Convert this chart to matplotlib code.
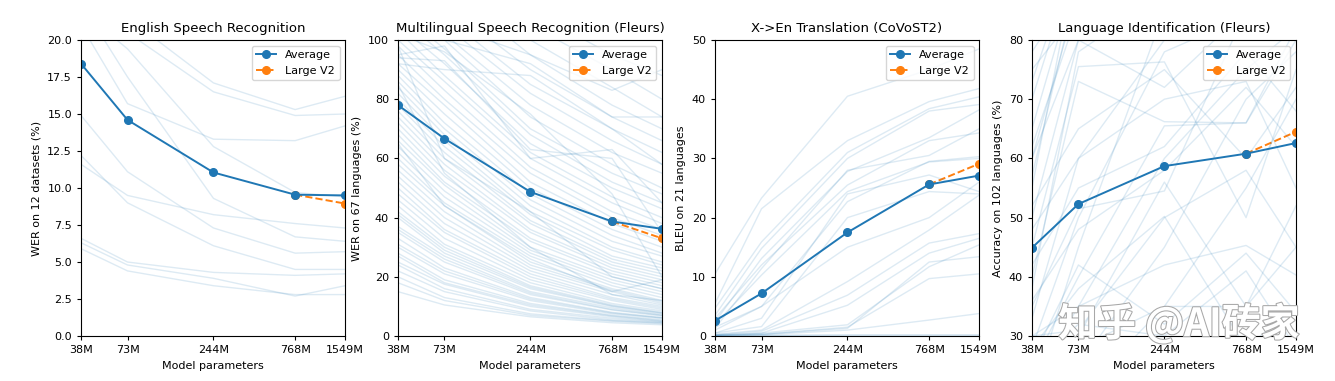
import numpy as np
import matplotlib
matplotlib.use('Agg')
import matplotlib.pyplot as plt
import matplotlib.patheffects as pe
from matplotlib.ticker import FixedLocator, FixedFormatter, NullLocator

# ------------------------------------------------------------------ #
# Data                                                                 #
# ------------------------------------------------------------------ #

params = [38, 73, 244, 768, 1549]          # millions
param_labels = ['38M', '73M', '244M', '768M', '1549M']

# English speech recognition, WER per dataset
en_lines = [
    [24.0, 21.5, 17.1, 15.3, 16.2],
    [23.0, 20.5, 16.5, 14.9, 15.0],
    [21.0, 15.7, 13.3, 13.2, 14.2],
    [22.0, 19.4, 12.8, 9.7, 9.4],
    [22.5, 17.5, 9.3, 6.7, 6.4],
    [14.9, 11.1, 7.3, 5.6, 5.7],
    [11.6, 9.5, 8.2, 7.6, 7.3],
    [12.2, 9.0, 6.1, 4.5, 4.5],
    [6.6, 5.0, 4.3, 4.1, 4.2],
    [6.3, 4.8, 3.9, 2.7, 3.4],
    [5.9, 4.4, 3.4, 2.8, 2.8],
    [40.0, 33.0, 27.0, 25.5, 26.0],
]
en_avg = [18.4, 14.6, 11.05, 9.55, 9.5]
en_v2 = 8.95

# Multilingual speech recognition (Fleurs), WER per language
ml_lines = [
    [15, 10.5, 6.5, 4.5, 3.8], [18, 12, 7, 5, 4.2], [20, 13, 7.5, 5.2, 4.4],
    [22, 15, 8.5, 5.5, 4.6], [24, 16, 9, 6, 4.8], [25, 17.5, 10, 6.5, 5],
    [27, 18, 10.5, 6.8, 5.2], [28, 19, 11, 7, 5.5], [30, 21, 12, 7.5, 6],
    [31, 22, 12.5, 7.8, 6.1], [33, 23, 13, 8, 6.3], [35, 25, 14, 8.8, 6.8],
    [36, 26, 14.5, 9, 7], [37, 27, 15, 9.5, 7.2], [40, 28, 16, 10, 7.6],
    [41, 29, 16.5, 10.2, 7.8], [42, 30, 17, 10.5, 8], [44, 31, 18, 11, 8.5],
    [46, 33, 19, 12, 9], [48, 35, 20, 12.5, 9.5], [50, 36, 21, 13, 10],
    [52, 38, 22, 14, 10.5], [54, 40, 23, 15, 11], [56, 42, 24, 15.5, 11.5],
    [58, 44, 25, 16, 12], [60, 45, 27, 17, 13], [62, 47, 28, 18, 14],
    [64, 49, 29, 19, 15], [66, 51, 30, 20, 16], [68, 52, 32, 21, 17],
    [70, 54, 33, 22, 18], [72, 56, 35, 23, 19], [74, 58, 36, 24, 20],
    [76, 60, 38, 25, 21], [78, 62, 39, 26, 22], [80, 64, 41, 27, 23],
    [82, 66, 42, 29, 24], [84, 68, 44, 30, 25], [86, 70, 46, 32, 27],
    [88, 72, 48, 34, 28], [90, 75, 50, 36, 30], [92, 78, 52, 38, 32],
    [95, 80, 55, 40, 34], [98, 83, 57, 42, 36], [100, 86, 60, 45, 38],
    [103, 88, 62, 47, 40], [105, 92, 65, 50, 43], [108, 95, 68, 52, 45],
    [110, 97, 70, 55, 48], [112, 100, 74, 58, 50], [115, 102, 78, 62, 55],
    [118, 105, 82, 66, 58], [120, 108, 85, 70, 62], [125, 112, 90, 74, 66],
    [130, 118, 95, 78, 70], [135, 122, 100, 84, 74], [140, 128, 105, 90, 80],
    [150, 135, 110, 95, 88], [95, 98, 60, 63, 45], [100, 105, 95, 83, 90],
    [110, 100, 92, 74, 74], [94, 93, 63, 60, 35], [98, 60, 42, 20, 16],
    [85, 55, 30, 14, 12], [92, 90, 88, 70, 58], [102, 96, 75, 48, 20],
    [65, 44, 26, 15, 19],
]
ml_avg = [78.0, 66.7, 48.7, 38.7, 36.2]
ml_v2 = 33.0

# X->En translation (CoVoST2), BLEU per language
tr_lines = [
    [10.5, 23.3, 40.5, 45.0, 48.5], [5.5, 21.5, 33.0, 39.6, 41.8],
    [4.7, 15.9, 31.0, 38.4, 40.4], [3.5, 14.8, 30.0, 38.0, 39.1],
    [2.4, 13.1, 27.8, 33.5, 38.2], [1.3, 11.4, 28.0, 30.5, 35.0],
    [3.0, 12.0, 25.5, 33.0, 34.3], [2.0, 10.3, 24.4, 29.4, 30.0],
    [1.0, 5.0, 22.7, 29.5, 30.3], [0.5, 3.0, 24.0, 27.2, 24.4],
    [0.5, 1.6, 20.0, 24.4, 24.0], [0.3, 1.0, 9.2, 17.9, 23.8],
    [0.2, 0.8, 6.9, 15.7, 17.3], [0.2, 0.5, 5.2, 14.0, 16.5],
    [0.1, 0.5, 1.9, 11.7, 15.4], [0.1, 0.3, 1.3, 12.5, 13.4],
    [0.1, 0.3, 1.5, 9.7, 10.5], [0.1, 0.2, 1.0, 2.7, 3.8],
    [0.0, 0.1, 0.2, 0.2, 0.2], [0.0, 0.1, 0.1, 0.1, 0.1],
    [1.5, 5.0, 15.0, 20.0, 26.0],
]
tr_avg = [2.6, 7.2, 17.5, 25.6, 27.1]
tr_v2 = 29.1

# Language identification (Fleurs), accuracy per language (visible ones)
lid_lines = [
    [55, 95, 98, 99, 99], [57, 90, 97, 98, 99], [60, 88, 95, 97, 98],
    [62, 85, 93, 96, 97], [65, 92, 97, 98, 98], [70, 95, 98, 99, 99],
    [73, 96, 98, 99, 99], [75, 85, 90, 95, 96], [78, 90, 95, 97, 98],
    [50, 80, 90, 94, 96], [45, 75.5, 76.3, 50, 75], [40, 73, 66.2, 66, 82],
    [35, 51.5, 54.5, 85, 90], [28, 38, 50.2, 28, 35], [25, 40, 65.5, 66, 80],
    [30, 35, 42, 45.3, 40.3], [20, 30, 56, 35, 45], [25, 32, 30, 41, 28],
    [48, 60, 70, 73, 55], [52, 65, 75, 60, 72], [20, 45, 85, 90, 92],
    [38, 78, 88, 92, 95], [33, 60, 80, 85, 88], [28, 50, 78, 84, 86],
    [22, 35, 60, 75, 82], [15, 25, 45, 70, 78], [10, 20, 35, 55, 70],
    [30, 31, 50, 58, 45], [42, 55, 62, 78, 68], [36, 48, 58, 72, 62],
    [60, 80, 72, 85, 88], [20, 28, 35, 35, 52], [26, 42, 32, 44, 34],
]
lid_avg = [44.9, 52.3, 58.7, 60.8, 62.6]
lid_v2 = 64.5

# ------------------------------------------------------------------ #
# Plot                                                                 #
# ------------------------------------------------------------------ #

panels = [
    ('English Speech Recognition', 'WER on 12 datasets (%)', en_lines, en_avg, en_v2, (0, 20), [0, 2.5, 5, 7.5, 10, 12.5, 15, 17.5, 20], '{:.1f}'),
    ('Multilingual Speech Recognition (Fleurs)', 'WER on 67 languages (%)', ml_lines, ml_avg, ml_v2, (0, 100), [0, 20, 40, 60, 80, 100], '{:.0f}'),
    ('X->En Translation (CoVoST2)', 'BLEU on 21 languages', tr_lines, tr_avg, tr_v2, (0, 50), [0, 10, 20, 30, 40, 50], '{:.0f}'),
    ('Language Identification (Fleurs)', 'Accuracy on 102 languages (%)', lid_lines, lid_avg, lid_v2, (30, 80), [30, 40, 50, 60, 70, 80], '{:.0f}'),
]

lefts = [0.0607, 0.2981, 0.5356, 0.7730]
fig = plt.figure(figsize=(13.35, 3.81), dpi=100)

for left, (title, ylabel, lines, avg, v2, ylim, yticks, yfmt) in zip(lefts, panels):
    ax = fig.add_axes([left, 0.118, 0.1978, 0.777])
    for row in lines:
        ax.plot(params, row, color='tab:blue', alpha=0.15, lw=1)
    ax.plot(params, avg, color='tab:blue', marker='o', ms=5.5, lw=1.4, label='Average')
    ax.plot(params[-2:], [avg[-2], v2], color='tab:orange', marker='o', ms=5.5,
            lw=1.4, ls='--', label='Large V2', zorder=1.9)
    ax.set_xscale('log')
    ax.set_xlim(params[0], params[-1])
    ax.set_ylim(*ylim)
    ax.xaxis.set_major_locator(FixedLocator(params))
    ax.xaxis.set_major_formatter(FixedFormatter(param_labels))
    ax.xaxis.set_minor_locator(NullLocator())
    ax.set_yticks(yticks)
    ax.set_yticklabels([yfmt.format(t) for t in yticks])
    ax.tick_params(labelsize=8, length=3)
    ax.set_title(title, fontsize=9.5)
    ax.set_xlabel('Model parameters', fontsize=8)
    ax.set_ylabel(ylabel, fontsize=8)
    ax.legend(loc='upper right', fontsize=8, handlelength=1.8)

# watermark
fig.text(0.883, 0.150, '知乎 @AI砖家', fontsize=28, ha='center', va='center',
         color='white', weight='bold', family=['Noto Sans CJK SC', 'DejaVu Sans'],
         path_effects=[pe.withStroke(linewidth=1.5, foreground='#a8a8a8')], zorder=10)

fig.savefig('out.png', dpi=100)
